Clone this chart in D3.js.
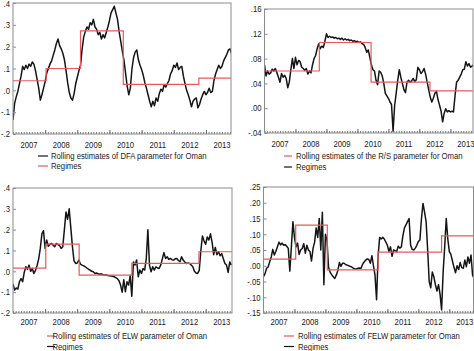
<!DOCTYPE html>
<html><head><meta charset="utf-8">
<script src="https://cdn.jsdelivr.net/npm/d3@7"></script>
<style>
body{margin:0;background:#fff}
svg{display:block}
text{font-family:"Liberation Sans",Arial,sans-serif;font-size:9.3px;fill:#1a1a1a}
</style>
</head><body>
<svg id="c" width="474" height="351"></svg>
<script>
// ---------------- DATA ----------------
const yearLabels = [2007, 2008, 2009, 2010, 2011, 2012, 2013];
const seriesStart = 2007.0;   // first observation (decimal year)
const seriesStep = 0.05;      // sampling step (years)

const dfaValues = [-0.135,-0.06,-0.03,-0.005,0.03,0.065,0.11,0.095,0.115,0.10,
 0.12,0.11,0.13,0.12,0.09,0.05,0.01,-0.045,-0.02,0.01,
 0.04,0.08,0.10,0.12,0.135,0.16,0.185,0.215,0.235,0.205,
 0.19,0.17,0.14,0.09,0.035,-0.01,-0.035,-0.045,-0.015,0.03,
 0.06,0.09,0.115,0.19,0.245,0.27,0.29,0.28,0.31,0.30,
 0.325,0.29,0.28,0.255,0.265,0.235,0.255,0.24,0.265,0.29,
 0.32,0.355,0.37,0.385,0.355,0.325,0.27,0.225,0.18,0.14,
 0.08,0.02,-0.02,0.01,0.10,0.15,0.175,0.185,0.14,0.115,
 0.095,0.07,0.035,0.01,-0.02,-0.05,-0.075,-0.05,-0.07,-0.035,
 -0.05,-0.015,0.005,-0.005,0.025,0.015,0.03,0.045,0.075,0.09,
 0.115,0.105,0.125,0.095,0.105,0.11,0.065,0.03,0.0,-0.02,
 -0.045,-0.075,-0.05,-0.04,-0.035,-0.08,-0.065,-0.04,-0.02,-0.005,
 -0.02,-0.01,0.01,-0.01,-0.005,0.045,0.075,0.095,0.115,0.1,
 0.11,0.135,0.15,0.165,0.185,0.19,0.165];

const rsValues = [0.07,0.052,0.06,0.055,0.057,0.063,0.06,0.064,0.057,0.05,
 0.042,0.056,0.05,0.053,0.048,0.033,0.042,0.062,0.08,0.064,
 0.082,0.07,0.077,0.075,0.066,0.064,0.061,0.064,0.055,0.06,
 0.057,0.07,0.08,0.085,0.096,0.104,0.096,0.1,0.098,0.108,
 0.12,0.114,0.116,0.114,0.115,0.113,0.114,0.112,0.113,0.111,
 0.113,0.11,0.112,0.11,0.111,0.109,0.11,0.108,0.109,0.107,
 0.108,0.106,0.107,0.104,0.103,0.098,0.09,0.094,0.082,0.07,
 0.062,0.06,0.045,0.038,0.06,0.058,0.052,0.04,0.024,0.02,
 0.016,0.01,0.006,-0.037,0.004,0.024,0.045,0.062,0.05,0.04,
 0.03,0.025,0.042,0.045,0.042,0.044,0.048,0.043,0.046,0.066,
 0.062,0.056,0.059,0.064,0.055,0.042,0.03,0.018,0.01,0.016,
 0.024,0.027,0.014,0.005,-0.005,-0.022,-0.008,-0.001,-0.006,-0.004,
 -0.006,-0.005,-0.006,0.02,0.042,0.045,0.05,0.055,0.062,0.063,
 0.075,0.068,0.072,0.066,0.068,0.07];

const elwValues = [-0.06,-0.09,-0.08,-0.085,-0.05,-0.035,-0.05,-0.005,0.022,0.01,
 0.03,0.0,0.014,-0.01,0.005,0.028,0.06,0.11,0.18,0.195,
 0.11,0.15,0.12,0.13,0.134,0.125,0.118,0.134,0.128,0.124,
 0.11,0.118,0.2,0.285,0.25,0.3,0.21,0.12,0.05,0.038,
 0.04,0.054,0.035,0.03,0.026,0.022,0.016,0.01,0.006,0.0,
 -0.002,-0.01,-0.008,-0.012,-0.014,-0.012,-0.016,-0.018,-0.017,-0.02,
 -0.021,-0.023,-0.024,-0.026,-0.03,-0.035,-0.045,-0.066,-0.1,-0.04,
 -0.098,-0.05,-0.066,-0.02,-0.12,0.045,0.03,0.054,-0.026,0.006,
 -0.01,0.014,0.006,0.06,0.2,0.03,-0.002,0.022,0.006,0.022,
 0.016,0.014,0.03,0.06,0.09,0.062,0.07,0.058,0.062,0.056,
 0.054,0.06,0.062,0.052,0.046,0.07,0.054,0.045,0.038,0.04,
 0.038,0.03,0.022,0.0,-0.008,-0.01,0.005,0.1,0.17,0.145,
 0.13,0.165,0.15,0.18,0.14,0.08,0.115,0.08,0.094,0.075,
 0.085,0.06,0.038,0.03,-0.005,0.045,0.03];

const felwValues = [-0.035,-0.025,-0.008,-0.004,0.013,0.028,0.052,0.034,0.046,0.06,
 0.075,0.066,0.072,0.065,0.067,0.062,0.055,-0.017,0.06,0.14,
 0.09,0.06,0.072,0.036,0.05,0.055,0.07,0.04,0.065,0.05,
 0.045,0.015,0.055,0.075,0.12,0.09,0.15,0.05,0.17,-0.06,
 0.1,0.08,-0.005,-0.02,-0.028,-0.035,-0.04,-0.03,-0.015,0.01,
 -0.002,0.008,0.008,0.004,0.002,0.0,-0.002,-0.004,-0.008,-0.01,
 -0.01,-0.008,-0.007,-0.008,0.005,0.012,0.018,0.022,0.02,0.008,
 0.032,0.0,-0.03,-0.108,0.03,0.09,0.085,0.09,0.085,0.075,
 0.065,0.045,0.06,0.03,0.05,0.048,0.045,0.062,0.056,0.06,
 0.095,0.12,0.13,0.14,0.15,0.065,0.052,0.05,0.056,0.065,
 0.077,0.082,0.15,0.198,0.17,0.14,0.05,-0.05,-0.07,-0.02,
 -0.035,-0.06,-0.08,-0.06,-0.09,-0.14,-0.02,0.06,0.15,0.085,
 0.045,0.036,0.015,-0.005,-0.022,0.0,-0.012,0.01,-0.006,-0.008,
 0.018,-0.003,0.028,0.008,0.034,-0.03,-0.04];

// regimes: start dates and levels
const dfaRegimeStarts = [2007.0, 2008.03, 2009.1, 2010.43, 2012.78];
const dfaRegimeLevels = [0.044, 0.1, 0.272, 0.027, 0.056];
const rsRegimeStarts = [2007.0, 2008.77, 2010.44, 2012.34];
const rsRegimeLevels = [0.06, 0.106, 0.042, 0.028];
const elwRegimeStarts = [2007.0, 2008.02, 2009.06, 2010.7, 2012.79];
const elwRegimeLevels = [0.015, 0.131, -0.018, 0.038, 0.094];
const felwRegimeStarts = [2007.0, 2008.04, 2009.06, 2010.7, 2012.75];
const felwRegimeLevels = [0.021, 0.129, -0.013, 0.043, 0.095];

// tick labels
const ticksA = [-0.2, -0.1, 0, 0.1, 0.2, 0.3, 0.4];
const ticksALabels = ["-.2", "-.1", ".0", ".1", ".2", ".3", ".4"];
const ticksB = [-0.04, 0, 0.04, 0.08, 0.12, 0.16];
const ticksBLabels = ["-.04", ".00", ".04", ".08", ".12", ".16"];
const ticksD = [-0.15, -0.10, -0.05, 0, 0.05, 0.10, 0.15, 0.20, 0.25];
const ticksDLabels = ["-.15", "-.10", "-.05", ".00", ".05", ".10", ".15", ".20", ".25"];

const legendDFA = "Rolling estimates of DFA parameter for Oman";
const legendRS = "Rolling estimates of the R/S parameter for Oman";
const legendELW = "Rolling estimates of ELW parameter of Oman";
const legendFELW = "Rolling estimates of FELW parameter for Oman";
const legendReg = "Regimes";

// ---------------- LAYOUT / STYLE ----------------
const BLACK = "#151515", RED = "#e55a5e", FRAME = "#8c8c8c";
const SX = 0.83;
const svg = d3.select("#c");

const panels = [
  {id: "p1", x0: 13, x1: 231, y0: 3, y1: 134, yDom: [-0.2, 0.4], tEnd: 2013.78,
   vals: dfaValues, rs: dfaRegimeStarts, rl: dfaRegimeLevels,
   ticks: ticksA, tickLabels: ticksALabels, yearY: 145,
   leg: [{c: BLACK, t: legendDFA, y: 156}, {c: RED, t: legendReg, y: 166}], legX0: 38, legX1: 48, legTx: 51},
  {id: "p2", x0: 264.5, x1: 473, y0: 9, y1: 133, yDom: [-0.04, 0.16], tEnd: 2013.73,
   vals: rsValues, rs: rsRegimeStarts, rl: rsRegimeLevels,
   ticks: ticksB, tickLabels: ticksBLabels, yearY: 144,
   leg: [{c: RED, t: legendRS, y: 156}, {c: BLACK, t: legendReg, y: 167}], legX0: 284, legX1: 292, legTx: 296},
  {id: "p3", x0: 13, x1: 232, y0: 188, y1: 313, yDom: [-0.2, 0.4], tEnd: 2013.82,
   vals: elwValues, rs: elwRegimeStarts, rl: elwRegimeLevels,
   ticks: ticksA, tickLabels: ticksALabels, yearY: 322,
   leg: [{c: RED, t: legendELW, y: 336}, {c: BLACK, t: legendReg, y: 346.5}], legX0: 47, legX1: 55, legTx: 52.5},
  {id: "p4", x0: 263.5, x1: 473.5, y0: 187, y1: 313, yDom: [-0.15, 0.25], tEnd: 2013.78,
   vals: felwValues, rs: felwRegimeStarts, rl: felwRegimeLevels,
   ticks: ticksD, tickLabels: ticksDLabels, yearY: 322,
   leg: [{c: RED, t: legendFELW, y: 336}, {c: BLACK, t: legendReg, y: 346.5}], legX0: 284, legX1: 294, legTx: 298}
];

function label(g, x, y, s, anchor) {
  g.append("text")
    .attr("transform", `translate(${x},${y}) scale(${SX},1)`)
    .attr("text-anchor", anchor)
    .attr("dy", "0.35em")
    .text(s);
}

panels.forEach(p => {
  const x = d3.scaleLinear().domain([seriesStart, p.tEnd]).range([p.x0, p.x1]);
  const y = d3.scaleLinear().domain(p.yDom).range([p.y1, p.y0]);
  const g = svg.append("g");

  svg.append("clipPath").attr("id", "clip-" + p.id)
    .append("rect").attr("x", p.x0).attr("y", p.y0)
    .attr("width", p.x1 - p.x0).attr("height", p.y1 - p.y0);

  // series
  const pts = p.vals.map((v, i) => [seriesStart + i * seriesStep, v]);
  const line = d3.line().x(d => x(d[0])).y(d => y(d[1]));
  const regPts = p.rs.map((s, i) => [s, p.rl[i]]);
  regPts.push([p.tEnd, p.rl[p.rl.length - 1]]);
  const stepLine = d3.line().x(d => x(d[0])).y(d => y(d[1])).curve(d3.curveStepAfter);

  const plot = g.append("g").attr("clip-path", `url(#clip-${p.id})`);
  plot.append("path").attr("d", line(pts)).attr("fill", "none")
    .attr("stroke", BLACK).attr("stroke-width", 1.5).attr("stroke-linejoin", "round");
  plot.append("path").attr("d", stepLine(regPts)).attr("fill", "none")
    .attr("stroke", RED).attr("stroke-width", 1.2);

  // y axis ticks (inward)
  const ya = d3.axisLeft(y).tickValues(p.ticks)
    .tickFormat((d, i) => p.tickLabels[i]).tickSizeInner(-3).tickSizeOuter(0).tickPadding(3);
  const yg = g.append("g").attr("transform", `translate(${p.x0},0)`).call(ya);
  yg.select(".domain").remove();
  yg.selectAll(".tick line").attr("stroke", FRAME);
  yg.selectAll("text").remove();
  p.ticks.forEach((t, i) => label(g, p.x0 - 3, Math.max(y(t), 4), p.tickLabels[i], "end"));

  // x axis: monthly minor ticks and yearly ticks (inward)
  const months = d3.range(0, Math.floor((p.tEnd - seriesStart) * 12) + 1).map(m => seriesStart + m / 12);
  const xm = d3.axisBottom(x).tickValues(months).tickFormat("").tickSizeInner(-2).tickSizeOuter(0);
  const xmg = g.append("g").attr("transform", `translate(0,${p.y1})`).call(xm);
  xmg.select(".domain").remove();
  xmg.selectAll(".tick line").attr("stroke", "#777");
  const yrs = yearLabels.filter(yr => yr > seriesStart && yr < p.tEnd);
  const xy = d3.axisBottom(x).tickValues(yrs).tickFormat("").tickSizeInner(-4).tickSizeOuter(0);
  const xyg = g.append("g").attr("transform", `translate(0,${p.y1})`).call(xy);
  xyg.select(".domain").remove();
  xyg.selectAll(".tick line").attr("stroke", "#666");

  yearLabels.forEach(yr => label(g, x(yr + 0.5), p.yearY, String(yr), "middle"));

  // frame
  g.append("rect").attr("x", p.x0).attr("y", p.y0)
    .attr("width", p.x1 - p.x0).attr("height", p.y1 - p.y0)
    .attr("fill", "none").attr("stroke", FRAME).attr("stroke-width", 1);

  // legend
  p.leg.forEach(L => {
    g.append("line").attr("x1", p.legX0).attr("x2", p.legX1).attr("y1", L.y).attr("y2", L.y)
      .attr("stroke", L.c).attr("stroke-width", 1.2);
    label(g, p.legTx, L.y, L.t, "start");
  });
});
</script>
</body></html>
